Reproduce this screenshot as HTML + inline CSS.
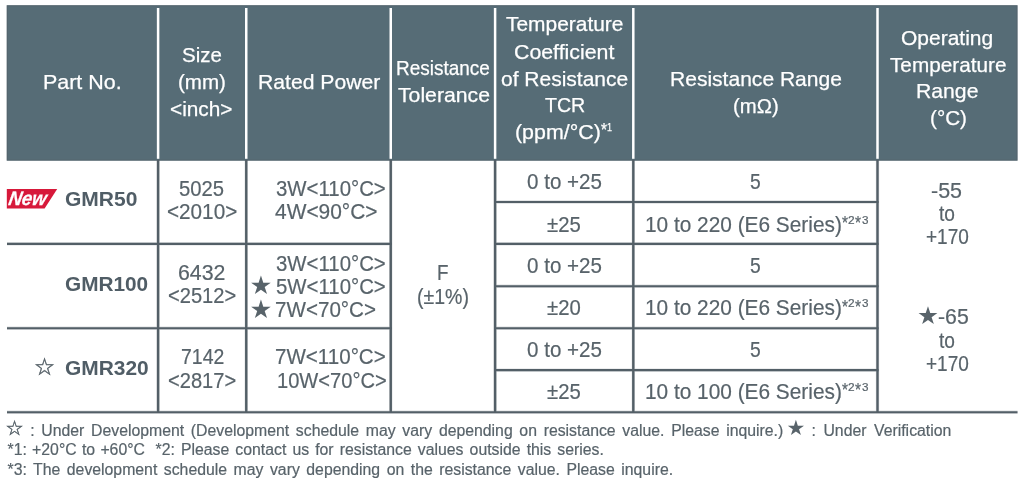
<!DOCTYPE html>
<html><head><meta charset="utf-8">
<style>
html,body{margin:0;padding:0;background:#fff}
body{width:1024px;height:485px;position:relative;overflow:hidden;font-family:"Liberation Sans",Arial,sans-serif;color:#58636a}
svg.g{position:absolute;left:0;top:0}
.t{position:absolute;white-space:nowrap;line-height:0;height:0;transform-origin:0 0;}
.h{color:#fff;-webkit-text-stroke:0.25px #fff}
.b,.f{-webkit-text-stroke:0.2px #58636a}
.B{font-weight:bold;color:#505d66}
.h.B{color:#fff}
.st{font-family:"DejaVu Sans",sans-serif}
</style></head><body>
<svg class="g" width="1024" height="485" viewBox="0 0 1024 485">
<rect x="6.75" y="5.25" width="1010.75" height="155.4" fill="#566c76"/>
<rect x="7.25" y="5.75" width="1009.75" height="154.4" fill="none" stroke="#535f67" stroke-width="1" opacity="0.6"/>
<g stroke="#fff" stroke-width="2.5">
<line x1="158.1" y1="8" x2="158.1" y2="158.8"/>
<line x1="246.25" y1="8" x2="246.25" y2="158.8"/>
<line x1="390.75" y1="8" x2="390.75" y2="158.8"/>
<line x1="495.1" y1="8" x2="495.1" y2="158.8"/>
<line x1="633.3" y1="8" x2="633.3" y2="158.8"/>
<line x1="877.5" y1="8" x2="877.5" y2="158.8"/>
</g>
<g stroke="#535f67" stroke-width="3.4" opacity="0.2">
<line x1="158.1" y1="160" x2="158.1" y2="412.8"/>
<line x1="246.25" y1="160" x2="246.25" y2="412.8"/>
<line x1="390.75" y1="160" x2="390.75" y2="412.8"/>
<line x1="495.1" y1="160" x2="495.1" y2="412.8"/>
<line x1="633.3" y1="160" x2="633.3" y2="412.8"/>
<line x1="877.5" y1="160" x2="877.5" y2="412.8"/>
<line x1="7" y1="243.9" x2="391.8" y2="243.9"/>
<line x1="494" y1="243.9" x2="878.5" y2="243.9"/>
<line x1="7" y1="328.2" x2="391.8" y2="328.2"/>
<line x1="494" y1="328.2" x2="878.5" y2="328.2"/>
<line x1="494" y1="201.95" x2="878.5" y2="201.95"/>
<line x1="494" y1="286.2" x2="878.5" y2="286.2"/>
<line x1="494" y1="370.1" x2="878.5" y2="370.1"/>
<line x1="7" y1="412.2" x2="1017.5" y2="412.2"/>
</g>
<g stroke="#535f67" stroke-width="2.4">
<line x1="158.1" y1="160" x2="158.1" y2="412.8"/>
<line x1="246.25" y1="160" x2="246.25" y2="412.8"/>
<line x1="390.75" y1="160" x2="390.75" y2="412.8"/>
<line x1="495.1" y1="160" x2="495.1" y2="412.8"/>
<line x1="633.3" y1="160" x2="633.3" y2="412.8"/>
<line x1="877.5" y1="160" x2="877.5" y2="412.8"/>
</g>
<g stroke="#535f67" stroke-width="2.15">
<line x1="7" y1="243.9" x2="391.8" y2="243.9"/>
<line x1="494" y1="243.9" x2="878.5" y2="243.9"/>
<line x1="7" y1="328.2" x2="391.8" y2="328.2"/>
<line x1="494" y1="328.2" x2="878.5" y2="328.2"/>
<line x1="494" y1="201.95" x2="878.5" y2="201.95"/>
<line x1="494" y1="286.2" x2="878.5" y2="286.2"/>
<line x1="494" y1="370.1" x2="878.5" y2="370.1"/>
<line x1="7" y1="412.2" x2="1017.5" y2="412.2"/>
</g>
<polygon points="6.8,188.9 57.2,188.9 44.6,208.6 6.8,208.6" fill="#d7193a"/>
</svg>
<div class="t h" style="left:43.23px;top:81.75px;font-size:21px;transform:scaleX(1.0210)">Part No.</div>
<div class="t h" style="left:182.00px;top:54.75px;font-size:21px;transform:scaleX(0.9770)">Size</div>
<div class="t h" style="left:178.02px;top:81.75px;font-size:21px;transform:scaleX(0.9792)">(mm)</div>
<div class="t h" style="left:170.26px;top:108.50px;font-size:21px;transform:scaleX(0.9913)">&lt;inch&gt;</div>
<div class="t h" style="left:257.74px;top:81.75px;font-size:21px;transform:scaleX(1.0070)">Rated Power</div>
<div class="t h" style="left:396.00px;top:68.00px;font-size:21px;transform:scaleX(0.9031)">Resistance</div>
<div class="t h" style="left:397.70px;top:95.00px;font-size:21px;transform:scaleX(1.0102)">Tolerance</div>
<div class="t h" style="left:506.25px;top:24.25px;font-size:21px;transform:scaleX(0.9961)">Temperature</div>
<div class="t h" style="left:513.73px;top:51.50px;font-size:21px;transform:scaleX(1.0153)">Coefficient</div>
<div class="t h" style="left:500.75px;top:78.50px;font-size:21px;transform:scaleX(0.9996)">of Resistance</div>
<div class="t h" style="left:545.20px;top:105.25px;font-size:21px;transform:scaleX(0.9327)">TCR</div>
<div class="t h" style="left:515.23px;top:131.50px;font-size:21px;transform:scaleX(1.0183)">(ppm/°C)</div>
<div class="t h" style="left:669.50px;top:78.50px;font-size:21px;transform:scaleX(1.0019)">Resistance Range</div>
<div class="t h" style="left:732.78px;top:105.50px;font-size:21px;transform:scaleX(0.9682)">(mΩ)</div>
<div class="t h" style="left:900.75px;top:38.00px;font-size:21px;transform:scaleX(0.9995)">Operating</div>
<div class="t h" style="left:889.75px;top:64.75px;font-size:21px;transform:scaleX(0.9875)">Temperature</div>
<div class="t h" style="left:916.24px;top:91.25px;font-size:21px;transform:scaleX(1.0091)">Range</div>
<div class="t h" style="left:929.52px;top:118.00px;font-size:21px;transform:scaleX(0.9843)">(°C)</div>
<div class="t B" style="left:65.00px;top:199.25px;font-size:21px;transform:scaleX(1.0011)">GMR50</div>
<div class="t B" style="left:65.00px;top:283.75px;font-size:21px;transform:scaleX(0.9898)">GMR100</div>
<div class="t B" style="left:65.00px;top:368.00px;font-size:21px;transform:scaleX(0.9958)">GMR320</div>
<div class="t b" style="left:179.25px;top:188.50px;font-size:21.5px;transform:scaleX(0.9400)">5025</div>
<div class="t b" style="left:166.54px;top:211.75px;font-size:21.5px;transform:scaleX(0.9631)">&lt;2010&gt;</div>
<div class="t b" style="left:177.76px;top:273.00px;font-size:21.5px;transform:scaleX(0.9919)">6432</div>
<div class="t b" style="left:167.81px;top:296.25px;font-size:21.5px;transform:scaleX(0.9351)">&lt;2512&gt;</div>
<div class="t b" style="left:180.85px;top:356.75px;font-size:21.5px;transform:scaleX(0.9047)">7142</div>
<div class="t b" style="left:167.81px;top:380.50px;font-size:21.5px;transform:scaleX(0.9351)">&lt;2817&gt;</div>
<div class="t b" style="left:275.75px;top:188.75px;font-size:21.5px;transform:scaleX(0.9483)">3W&lt;110°C&gt;</div>
<div class="t b" style="left:275.00px;top:211.75px;font-size:21.5px;transform:scaleX(0.9729)">4W&lt;90°C&gt;</div>
<div class="t b" style="left:275.75px;top:263.75px;font-size:21.5px;transform:scaleX(0.9483)">3W&lt;110°C&gt;</div>
<div class="t b" style="left:275.75px;top:287.25px;font-size:21.5px;transform:scaleX(0.9483)">5W&lt;110°C&gt;</div>
<div class="t b" style="left:275.29px;top:309.75px;font-size:21.5px;transform:scaleX(0.9582)">7W&lt;70°C&gt;</div>
<div class="t b" style="left:275.29px;top:357.25px;font-size:21.5px;transform:scaleX(0.9566)">7W&lt;110°C&gt;</div>
<div class="t b" style="left:277.07px;top:380.50px;font-size:21.5px;transform:scaleX(0.9348)">10W&lt;70°C&gt;</div>
<div class="t b" style="left:437.38px;top:272.75px;font-size:21.5px;transform:scaleX(0.8750)">F</div>
<div class="t b" style="left:417.09px;top:296.50px;font-size:21.5px;transform:scaleX(0.9085)">(±1%)</div>
<div class="t b" style="left:526.75px;top:182.25px;font-size:21.5px;transform:scaleX(0.9573)">0 to +25</div>
<div class="t b" style="left:547.25px;top:224.75px;font-size:21.5px;transform:scaleX(0.9439)">±25</div>
<div class="t b" style="left:526.75px;top:266.25px;font-size:21.5px;transform:scaleX(0.9573)">0 to +25</div>
<div class="t b" style="left:547.25px;top:308.25px;font-size:21.5px;transform:scaleX(0.9439)">±20</div>
<div class="t b" style="left:526.75px;top:349.75px;font-size:21.5px;transform:scaleX(0.9573)">0 to +25</div>
<div class="t b" style="left:547.25px;top:391.75px;font-size:21.5px;transform:scaleX(0.9439)">±25</div>
<div class="t b" style="left:750.00px;top:182.25px;font-size:21.5px;transform:scaleX(0.8958)">5</div>
<div class="t b" style="left:645.03px;top:224.75px;font-size:21.5px;transform:scaleX(0.9689)">10 to 220 (E6 Series)</div>
<div class="t b" style="left:750.00px;top:266.25px;font-size:21.5px;transform:scaleX(0.8958)">5</div>
<div class="t b" style="left:645.03px;top:308.25px;font-size:21.5px;transform:scaleX(0.9689)">10 to 220 (E6 Series)</div>
<div class="t b" style="left:750.00px;top:349.75px;font-size:21.5px;transform:scaleX(0.8958)">5</div>
<div class="t b" style="left:645.03px;top:391.75px;font-size:21.5px;transform:scaleX(0.9689)">10 to 100 (E6 Series)</div>
<div class="t b" style="left:931.45px;top:190.50px;font-size:21.5px;transform:scaleX(0.9978)">-55</div>
<div class="t b" style="left:939.40px;top:214.25px;font-size:21.5px;transform:scaleX(0.8902)">to</div>
<div class="t b" style="left:925.87px;top:237.25px;font-size:21.5px;transform:scaleX(0.8848)">+170</div>
<div class="t b" style="left:938.00px;top:316.75px;font-size:21.5px;transform:scaleX(0.9882)">-65</div>
<div class="t b" style="left:939.40px;top:340.50px;font-size:21.5px;transform:scaleX(0.8902)">to</div>
<div class="t b" style="left:925.87px;top:364.25px;font-size:21.5px;transform:scaleX(0.8848)">+170</div>
<div class="t f" style="left:30.25px;top:430.50px;font-size:15.8px;word-spacing:2.309px">: Under Development (Development schedule may vary depending on resistance value. Please inquire.)</div>
<div class="t f" style="left:811.50px;top:430.50px;font-size:15.8px;word-spacing:3.161px">: Under Verification</div>
<div class="t f" style="left:7.50px;top:450.25px;font-size:15.8px;word-spacing:0.901px">*1: +20°C to +60°C</div>
<div class="t f" style="left:155.50px;top:450.25px;font-size:15.8px;word-spacing:1.723px">*2: Please contact us for resistance values outside this series.</div>
<div class="t f" style="left:7.50px;top:470.25px;font-size:15.8px;word-spacing:2.143px">*3: The development schedule may vary depending on the resistance value. Please inquire.</div>
<div class="t b" style="left:841.50px;top:223.46px;font-size:19px;transform:scaleX(0.8125)">*</div>
<div class="t b" style="left:848.40px;top:219.86px;font-size:11.3px;transform:scaleX(1.0500)">2</div>
<div class="t b" style="left:854.90px;top:223.46px;font-size:19px;transform:scaleX(0.8125)">*</div>
<div class="t b" style="left:862.00px;top:219.86px;font-size:11.3px;transform:scaleX(1.0333)">3</div>
<div class="t b" style="left:841.50px;top:306.96px;font-size:19px;transform:scaleX(0.8125)">*</div>
<div class="t b" style="left:848.40px;top:303.36px;font-size:11.3px;transform:scaleX(1.0500)">2</div>
<div class="t b" style="left:854.90px;top:306.96px;font-size:19px;transform:scaleX(0.8125)">*</div>
<div class="t b" style="left:862.00px;top:303.36px;font-size:11.3px;transform:scaleX(1.0333)">3</div>
<div class="t b" style="left:841.50px;top:390.46px;font-size:19px;transform:scaleX(0.8125)">*</div>
<div class="t b" style="left:848.40px;top:386.86px;font-size:11.3px;transform:scaleX(1.0500)">2</div>
<div class="t b" style="left:854.90px;top:390.46px;font-size:19px;transform:scaleX(0.8125)">*</div>
<div class="t b" style="left:862.00px;top:386.86px;font-size:11.3px;transform:scaleX(1.0333)">3</div>
<div class="t h" style="left:600.50px;top:130.21px;font-size:19px;transform:scaleX(0.8125)">*</div>
<div class="t h" style="left:607.40px;top:126.61px;font-size:11.3px;transform:scaleX(0.8000)">1</div>
<div class="t h B" id="new" style="left:8.5px;top:198.30px;font-size:19.5px;font-style:italic;transform:skewX(-10deg) scaleX(0.945)">New</div>
<div class="t st" style="left:249.53px;top:285.44px;font-size:25.5px">★</div>
<div class="t st" style="left:249.53px;top:308.65px;font-size:25.5px">★</div>
<div class="t st" style="left:916.98px;top:315.75px;font-size:24.5px">★</div>
<div class="t st" style="left:33.92px;top:367.07px;font-size:23.5px;-webkit-text-stroke:0.45px #58636a">☆</div>
<div class="t st" style="left:5.41px;top:428.21px;font-size:20.2px;-webkit-text-stroke:0.45px #58636a">☆</div>
<div class="t st" style="left:786.55px;top:428.00px;font-size:21px">★</div>
</body></html>
